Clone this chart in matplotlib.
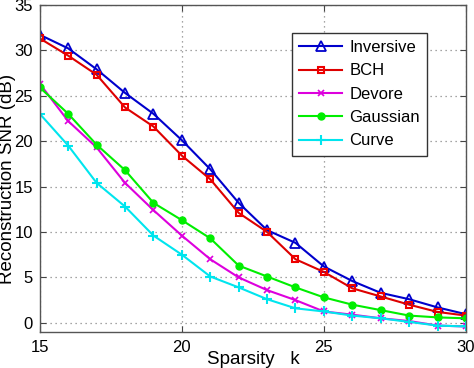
import matplotlib
matplotlib.use("Agg")
import matplotlib.pyplot as plt

plt.rcParams["font.family"] = ["Liberation Sans", "DejaVu Sans"]

# Sparsity values
k = [15, 16, 17, 18, 19, 20, 21, 22, 23, 24, 25, 26, 27, 28, 29, 30]

# Reconstruction SNR (dB)
inversive = [31.7, 30.2, 27.9, 25.3, 23.0, 20.1, 16.9, 13.2, 10.2, 8.8, 6.2, 4.6, 3.3, 2.6, 1.7, 0.95]
bch = [31.3, 29.4, 27.3, 23.7, 21.6, 18.4, 15.8, 12.1, 10.0, 7.0, 5.6, 3.8, 2.9, 2.0, 1.2, 0.8]
devore = [26.3, 22.2, 19.3, 15.4, 12.4, 9.6, 7.0, 5.0, 3.6, 2.5, 1.25, 0.9, 0.5, 0.2, -0.3, -0.4]
gaussian = [25.9, 23.0, 19.6, 16.8, 13.2, 11.3, 9.3, 6.3, 5.1, 3.9, 2.8, 2.0, 1.4, 0.8, 0.6, 0.5]
curve = [23.0, 19.5, 15.4, 12.8, 9.6, 7.5, 5.1, 3.9, 2.6, 1.6, 1.25, 0.8, 0.5, 0.1, -0.3, -0.4]

fig = plt.figure(figsize=(4.74, 3.68), dpi=100)
ax = fig.add_axes([0.084, 0.098, 0.899, 0.889])

ax.plot(k, inversive, color="#0000cc", marker="^", mfc="none", mec="#0000cc", ms=7, mew=1.3, lw=1.5, label="Inversive")
ax.plot(k, bch, color="#dd0000", marker="s", mfc="none", mec="#ee0000", ms=5, mew=1.5, lw=1.5, label="BCH")
ax.plot(k, devore, color="#dd00dd", marker="x", ms=5, mew=1.2, lw=1.5, label="Devore")
ax.plot(k, gaussian, color="#00ee00", marker="o", ms=5, lw=1.5, label="Gaussian")
ax.plot(k, curve, color="#00e5ee", marker="+", ms=7, mew=1.5, lw=1.5, label="Curve")

ax.set_xlim(15, 30)
ax.set_ylim(-1, 35)
ax.set_xticks([15, 20, 25, 30])
ax.set_yticks([0, 5, 10, 15, 20, 25, 30, 35])
ax.tick_params(direction="in", top=True, right=True, labelsize=12, length=4, pad=5,
               colors="#444444", labelcolor="black")
ax.tick_params(axis="x", pad=6)
ax.grid(True, linestyle=(0, (1, 3)), color="#888888", lw=0.9)
for s in ax.spines.values():
    s.set_color("#555555")
    s.set_linewidth(1.0)

ax.set_xlabel("Sparsity   k", fontsize=13.5, labelpad=-3)
ax.set_ylabel("Reconstruction SNR (dB)", fontsize=13.5)
ax.yaxis.set_label_coords(-0.057, 0.469)

leg = ax.legend(loc="upper left", bbox_to_anchor=(0.591, 0.915), fontsize=12, fancybox=False,
                framealpha=1, edgecolor="#333333", handlelength=2.6, labelspacing=0.5,
                borderpad=0.45, handletextpad=0.4, borderaxespad=0)
leg.get_frame().set_linewidth(1.0)

fig.savefig("out.png", dpi=100)
